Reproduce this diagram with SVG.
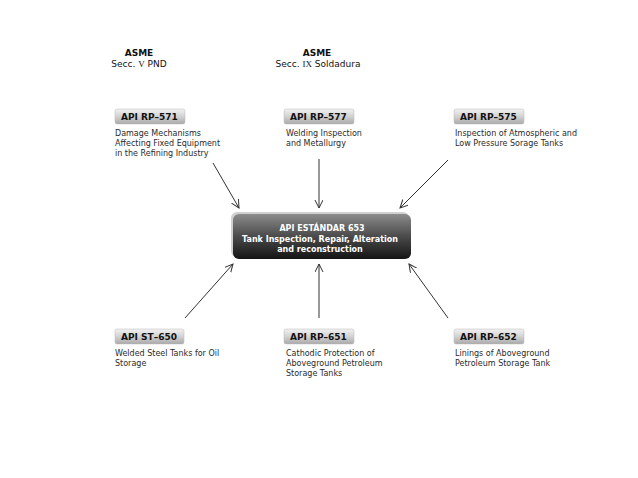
<svg xmlns="http://www.w3.org/2000/svg" width="638" height="478" viewBox="0 0 638 478">
<style>
.hd{font-family:"DejaVu Sans",Verdana,sans-serif;font-size:9px;fill:#111;text-anchor:middle}
.hb{font-weight:bold}
.rn{font-family:"Liberation Serif","Times New Roman",serif}
.lb{font-family:"DejaVu Sans",Verdana,sans-serif;font-size:9px;font-weight:bold;fill:#111}
.ds{font-family:"DejaVu Sans",Verdana,sans-serif;font-size:8px;fill:#2a2a2a}
.ct{font-family:"DejaVu Sans",Verdana,sans-serif;font-size:8px;font-weight:bold;fill:#fff;text-anchor:middle}
.conn{stroke:#333;stroke-width:1;fill:none;marker-end:url(#ah)}
.tag{fill:url(#gl);stroke:#bbb;stroke-width:0.5}
</style>
<defs>
<linearGradient id="gl" x1="0" y1="0" x2="0" y2="1">
<stop offset="0" stop-color="#f2f2f2"/>
<stop offset="0.5" stop-color="#d2d2d2"/>
<stop offset="1" stop-color="#a9a9a9"/>
</linearGradient>
<linearGradient id="gd" x1="0" y1="0" x2="0" y2="1">
<stop offset="0" stop-color="#8c8c8c"/>
<stop offset="0.5" stop-color="#4a4a4a"/>
<stop offset="1" stop-color="#141414"/>
</linearGradient>
<marker id="ah" markerWidth="10" markerHeight="10" refX="8" refY="4" orient="auto" markerUnits="userSpaceOnUse">
<path d="M0,0 L8,4 L0,8" fill="none" stroke="#333" stroke-width="1"/>
</marker>
</defs>
<rect width="638" height="478" fill="#fff"/>

<g id="asme-v">
<text class="hd hb" x="139" y="56">ASME</text>
<text class="hd" x="139" y="67">Secc. <tspan class="rn">V</tspan> PND</text>
</g>
<g id="asme-ix">
<text class="hd hb" x="317" y="56">ASME</text>
<text class="hd" x="318" y="67">Secc. <tspan class="rn">IX</tspan> Soldadura</text>
</g>

<g id="connectors">
<line class="conn" x1="213" y1="163" x2="239" y2="208"/>
<line class="conn" x1="319" y1="159" x2="319" y2="208"/>
<line class="conn" x1="448" y1="160" x2="400" y2="208"/>
<line class="conn" x1="185" y1="318" x2="233" y2="264"/>
<line class="conn" x1="319" y1="318" x2="319" y2="264"/>
<line class="conn" x1="448" y1="318" x2="409" y2="264"/>
</g>

<g id="center">
<rect x="231" y="212" width="178" height="45" rx="6" fill="#d0d0d0"/>
<rect x="233" y="214" width="178" height="45" rx="6" fill="url(#gd)"/>
<text class="ct" x="322" y="231">API ESTÁNDAR 653</text>
<text class="ct" x="320" y="242">Tank Inspection, Repair, Alteration</text>
<text class="ct" x="320" y="252">and reconstruction</text>
</g>

<g id="rp571">
<rect class="tag" x="115" y="109" width="70" height="15" rx="2"/>
<text class="lb" x="121" y="120">API RP–571</text>
<text class="ds" x="115" y="136">Damage Mechanisms</text>
<text class="ds" x="115" y="146">Affecting Fixed Equipment</text>
<text class="ds" x="115" y="156">in the Refining Industry</text>
</g>
<g id="rp577">
<rect class="tag" x="284" y="109" width="70" height="15" rx="2"/>
<text class="lb" x="290" y="120">API RP–577</text>
<text class="ds" x="286" y="136">Welding Inspection</text>
<text class="ds" x="286" y="146">and Metallurgy</text>
</g>
<g id="rp575">
<rect class="tag" x="454" y="109" width="70" height="15" rx="2"/>
<text class="lb" x="460" y="120">API RP–575</text>
<text class="ds" x="455" y="136">Inspection of Atmospheric and</text>
<text class="ds" x="455" y="146">Low Pressure Sorage Tanks</text>
</g>
<g id="st650">
<rect class="tag" x="115" y="329" width="69" height="15" rx="2"/>
<text class="lb" x="121" y="340">API ST–650</text>
<text class="ds" x="115" y="356">Welded Steel Tanks for Oil</text>
<text class="ds" x="115" y="366">Storage</text>
</g>
<g id="rp651">
<rect class="tag" x="284" y="329" width="70" height="15" rx="2"/>
<text class="lb" x="290" y="340">API RP–651</text>
<text class="ds" x="286" y="356">Cathodic Protection of</text>
<text class="ds" x="286" y="366">Aboveground Petroleum</text>
<text class="ds" x="286" y="376">Storage Tanks</text>
</g>
<g id="rp652">
<rect class="tag" x="454" y="329" width="70" height="15" rx="2"/>
<text class="lb" x="460" y="340">API RP–652</text>
<text class="ds" x="455" y="356">Linings of Aboveground</text>
<text class="ds" x="455" y="366">Petroleum Storage Tank</text>
</g>
</svg>
